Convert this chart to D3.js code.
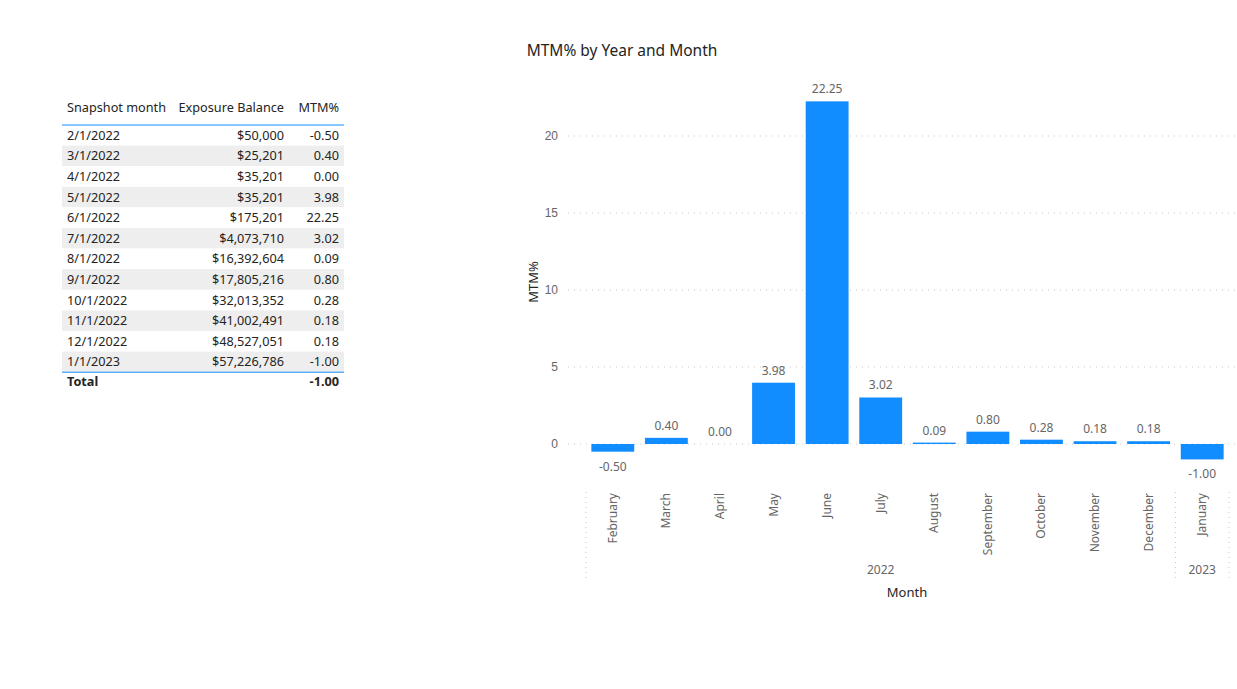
<!DOCTYPE html>
<html>
<head>
<meta charset="utf-8">
<script src="https://cdn.jsdelivr.net/npm/d3@7"></script>
<style>
  body { margin: 0; background: #fff; }
  svg { display: block; font-family: "Segoe UI", "Noto Sans", sans-serif; }
</style>
</head>
<body>
<svg id="report" width="1237" height="689" viewBox="0 0 1237 689"></svg>
<script>
// table + chart data
const snapshotMonths = ["2/1/2022", "3/1/2022", "4/1/2022", "5/1/2022", "6/1/2022", "7/1/2022",
	"8/1/2022", "9/1/2022", "10/1/2022", "11/1/2022", "12/1/2022", "1/1/2023"];
const exposureBalance = [50000, 25201, 35201, 35201, 175201, 4073710,
	16392604, 17805216, 32013352, 41002491, 48527051, 57226786];
const mtmValues = [-0.50, 0.40, 0.00, 3.98, 22.25, 3.02, 0.09, 0.80, 0.28, 0.18, 0.18, -1.00];
const monthNames = ["February", "March", "April", "May", "June", "July",
	"August", "September", "October", "November", "December", "January"];
const years = ["2022", "2022", "2022", "2022", "2022", "2022",
	"2022", "2022", "2022", "2022", "2022", "2023"];
const totalMtm = -1.00;
const yTicks = [0, 5, 10, 15, 20];

const svg = d3.select('#report');
const fmtMoney = d3.format("$,.0f");
// plain hyphen for negatives, like the report
const fmt2 = v => d3.format(".2f")(v).replace('\u2212', '-');

// ---------- table ----------
const table = svg.append('g');
const tLeft = 62, tRight = 344, rowH = 20.6, headLine = 125;
const colX = { month: 67, balance: 284, mtm: 339 };

table.append('text').attr('x', colX.month).attr('y', 112).text('Snapshot month');
table.append('text').attr('x', colX.balance).attr('y', 112).attr('text-anchor', 'end').text('Exposure Balance');
table.append('text').attr('x', colX.mtm).attr('y', 112).attr('text-anchor', 'end').text('MTM%');
table.selectAll('text').attr('font-size', 12.7).attr('fill', '#252423');

const rows = table.selectAll('g.row')
	.data(snapshotMonths.map((m, i) => ({ m, bal: exposureBalance[i], mtm: mtmValues[i], i })))
	.enter().append('g')
	.attr('class', 'row')
	.attr('transform', d => `translate(0,${headLine + d.i * rowH})`);

rows.append('rect')
	.attr('x', tLeft).attr('width', tRight - tLeft)
	.attr('y', 0).attr('height', rowH)
	.attr('fill', d => d.i % 2 ? '#eeeeee' : '#ffffff');

rows.append('text').attr('x', colX.month).attr('y', rowH / 2 + 4.5).text(d => d.m);
rows.append('text').attr('x', colX.balance).attr('y', rowH / 2 + 4.5).attr('text-anchor', 'end').text(d => fmtMoney(d.bal));
rows.append('text').attr('x', colX.mtm).attr('y', rowH / 2 + 4.5).attr('text-anchor', 'end').text(d => fmt2(d.mtm));
rows.selectAll('text').attr('font-size', 12.7).attr('fill', '#252423');

table.append('line').attr('x1', tLeft).attr('x2', tRight).attr('y1', headLine).attr('y2', headLine)
	.attr('stroke', '#118DFF').attr('stroke-width', 1);
const tBottom = headLine + snapshotMonths.length * rowH;
table.append('line').attr('x1', tLeft).attr('x2', tRight).attr('y1', tBottom).attr('y2', tBottom)
	.attr('stroke', '#118DFF').attr('stroke-width', 1);

table.append('text').attr('x', colX.month).attr('y', tBottom + 14).text('Total')
	.attr('font-size', 12.7).attr('font-weight', 'bold').attr('fill', '#252423');
table.append('text').attr('x', colX.mtm).attr('y', tBottom + 14).attr('text-anchor', 'end').text(fmt2(totalMtm))
	.attr('font-size', 12.7).attr('font-weight', 'bold').attr('fill', '#252423');

// ---------- chart ----------
const chart = svg.append('g');
const keys = monthNames.map((m, i) => years[i] + '-' + m);

const x = d3.scaleBand()
	.domain(keys)
	.range([586, 1229])
	.paddingInner(0.2)
	.paddingOuter(0.1);

const y = d3.scaleLinear()
	.domain([0, 20])
	.range([444, 136]);

chart.append('text')
	.attr('x', 622).attr('y', 56)
	.attr('text-anchor', 'middle')
	.attr('font-size', 15.5)
	.attr('fill', '#252423')
	.text('MTM% by Year and Month');

// gridlines + y labels
const yAxis = d3.axisLeft(y).tickValues(yTicks).tickSize(0).tickPadding(0).tickFormat(d3.format('d'));
const gy = chart.append('g').attr('transform', 'translate(558,0)').call(yAxis);
gy.select('.domain').remove();
gy.selectAll('text').attr('font-size', 12).attr('fill', '#666666').attr('font-family', null);

chart.append('g').selectAll('line')
	.data(yTicks)
	.enter().append('line')
	.attr('x1', 568).attr('x2', 1237)
	.attr('y1', d => y(d)).attr('y2', d => y(d))
	.attr('stroke', '#c8c8c8')
	.attr('stroke-width', 1)
	.attr('stroke-dasharray', '1,5');

chart.append('text')
	.attr('transform', `translate(538,282) rotate(-90)`)
	.attr('text-anchor', 'middle')
	.attr('font-size', 13)
	.attr('fill', '#252423')
	.text('MTM%');

// bars
chart.append('g').selectAll('rect')
	.data(mtmValues)
	.enter().append('rect')
	.attr('x', (d, i) => x(keys[i]))
	.attr('width', x.bandwidth())
	.attr('y', d => y(Math.max(0, d)))
	.attr('height', d => Math.abs(y(d) - y(0)))
	.attr('fill', '#118DFF');

// data labels
chart.append('g').selectAll('text')
	.data(mtmValues)
	.enter().append('text')
	.attr('x', (d, i) => x(keys[i]) + x.bandwidth() / 2)
	.attr('y', d => d < 0 ? y(d) + 19 : y(d) - 8)
	.attr('text-anchor', 'middle')
	.attr('font-size', 12)
	.attr('fill', '#666666')
	.text(d => fmt2(d));

// month labels
chart.append('g').selectAll('text')
	.data(monthNames)
	.enter().append('text')
	.attr('transform', (d, i) => `translate(${x(keys[i]) + x.bandwidth() / 2 + 4},493) rotate(-90)`)
	.attr('text-anchor', 'end')
	.attr('font-size', 12)
	.attr('fill', '#666666')
	.text(d => d);

// year groups
const yearGroups = d3.groups(keys.map((k, i) => ({ k, yr: years[i] })), d => d.yr);
const step = x.step();
const outer = x.paddingOuter() * step;
const sepXs = [];
yearGroups.forEach(([yr, items], gi) => {
	const x0 = x(items[0].k) - (gi === 0 ? outer : step * x.paddingInner() / 2);
	const last = items[items.length - 1].k;
	const x1 = x(last) + x.bandwidth() + (gi === yearGroups.length - 1 ? outer : step * x.paddingInner() / 2);
	sepXs.push(x0);
	if (gi === yearGroups.length - 1) sepXs.push(x1);
	chart.append('text')
		.attr('x', (x0 + x1) / 2).attr('y', 574)
		.attr('text-anchor', 'middle')
		.attr('font-size', 12)
		.attr('fill', '#666666')
		.text(yr);
});

chart.append('g').selectAll('line')
	.data(sepXs)
	.enter().append('line')
	.attr('x1', d => d).attr('x2', d => d)
	.attr('y1', 492).attr('y2', 579)
	.attr('stroke', '#c8c8c8')
	.attr('stroke-dasharray', '1,4');

chart.append('text')
	.attr('x', 907).attr('y', 597)
	.attr('text-anchor', 'middle')
	.attr('font-size', 13)
	.attr('fill', '#252423')
	.text('Month');
</script>
</body>
</html>
